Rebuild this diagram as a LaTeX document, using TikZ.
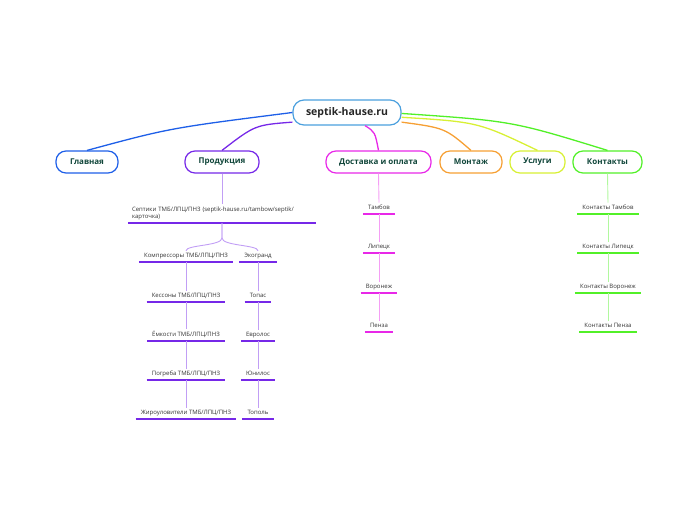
\documentclass[tikz,border=0pt]{standalone}
\usepackage{fontspec}
\setmainfont{Open Sans}
\usepackage{xcolor}

\definecolor{rootblue}{RGB}{75,160,222}
\definecolor{topictext}{RGB}{16,70,58}
\definecolor{cGlav}{RGB}{30,95,232}
\definecolor{cProd}{RGB}{118,40,232}
\definecolor{cDost}{RGB}{232,40,232}
\definecolor{cMont}{RGB}{246,160,52}
\definecolor{cUsl}{RGB}{216,240,52}
\definecolor{cKont}{RGB}{82,240,40}

\begin{document}
\begin{tikzpicture}[x=1pt,y=-1pt,
    root/.style={draw=rootblue, line width=1.2pt, rounded corners=11pt, fill=white,
        minimum width=108pt, minimum height=25pt, font=\fontsize{10.5}{12}\selectfont\bfseries, text=black!85},
    topic/.style={draw=#1, line width=1.2pt, rounded corners=10pt, fill=white,
        minimum height=22pt, inner xsep=3pt, font=\fontsize{8}{10}\selectfont\bfseries, text=topictext},
    branch/.style={draw=#1, line width=1.3pt},
    uline/.style={append after command={(\tikzlastnode.south west) edge[draw=#1, line width=1.8pt] (\tikzlastnode.south east)}},
    leaf/.style={uline=#1, anchor=south, inner xsep=5pt, inner ysep=2.5pt, text depth=1.5pt,
        font=\fontsize{6}{7.5}\selectfont, text=black!80},
    note/.style={uline=#1, anchor=south, inner xsep=4pt, inner ysep=2.5pt, text width=180pt, align=left,
        font=\fontsize{6}{7.5}\selectfont, text=black!80},
    stem/.style={draw=#1!45!white, line width=0.9pt}
]
    \useasboundingbox (0,0) rectangle (697,520);

    % centre and main topics
    \node[root] (root) at (347,112.5) {septik-hause.ru};

    \node[topic=cGlav, minimum width=62pt] (glav) at (87,162) {Главная};
    \node[topic=cProd, minimum width=74pt] (prod) at (222,162) {Продукция};
    \node[topic=cDost, minimum width=105pt] (dost) at (378.5,162) {Доставка и оплата};
    \node[topic=cMont, minimum width=62pt] (mont) at (471,162) {Монтаж};
    \node[topic=cUsl, minimum width=55pt] (usl) at (537.5,162) {Услуги};
    \node[topic=cKont, minimum width=69pt] (kont) at (607.5,162) {Контакты};

    \draw[branch=cGlav] (root.west) .. controls (170,128) .. (glav.north);
    \draw[branch=cProd] (root.190) .. controls (255,125) .. (prod.north);
    \draw[branch=cDost] (root.-36) .. controls (375,132) .. (dost.north);
    \draw[branch=cMont] (root.-10) .. controls (445,128) .. (mont.north);
    \draw[branch=cUsl] (root.-5) .. controls (478,122) .. (usl.north);
    \draw[branch=cKont] (root.-1) .. controls (512,121) .. (kont.north);

    % production
    \node[note=cProd] (sept) at (222,223) {Септики ТМБ/ЛПЦ/ПНЗ (septik-hause.ru/tambow/septik/ карточка)};

    \node[leaf=cProd] (komp) at (186,262) {Компрессоры ТМБ/ЛПЦ/ПНЗ};
    \node[leaf=cProd] (kess) at (186,302) {Кессоны ТМБ/ЛПЦ/ПНЗ};
    \node[leaf=cProd] (emk) at (186,341) {Ёмкости ТМБ/ЛПЦ/ПНЗ};
    \node[leaf=cProd] (pogr) at (186,380) {Погреба ТМБ/ЛПЦ/ПНЗ};
    \node[leaf=cProd] (zhir) at (186,419) {Жироуловители ТМБ/ЛПЦ/ПНЗ};

    \node[leaf=cProd] (eko) at (258,262) {Экогранд};
    \node[leaf=cProd] (topas) at (258,302) {Топас};
    \node[leaf=cProd] (evro) at (258,341) {Евролос};
    \node[leaf=cProd] (yuni) at (258,380) {Юнилос};
    \node[leaf=cProd] (topol) at (258,419) {Тополь};

    \draw[stem=cProd] (prod.south) -- (sept.north);
    \draw[stem=cProd] (sept.south) -- ++(0,15) .. controls +(0,8) and +(0,-6) .. (komp.north);
    \draw[stem=cProd] (sept.south) -- ++(0,15) .. controls +(0,8) and +(0,-6) .. (eko.north);
    \draw[stem=cProd] (komp.south) -- (kess.north);
    \draw[stem=cProd] (kess.south) -- (emk.north);
    \draw[stem=cProd] (emk.south) -- (pogr.north);
    \draw[stem=cProd] (pogr.south) -- (zhir.north);
    \draw[stem=cProd] (eko.south) -- (topas.north);
    \draw[stem=cProd] (topas.south) -- (evro.north);
    \draw[stem=cProd] (evro.south) -- (yuni.north);
    \draw[stem=cProd] (yuni.south) -- (topol.north);

    % delivery
    \node[leaf=cDost] (tamb) at (379,214) {Тамбов};
    \node[leaf=cDost] (lip) at (379,253) {Липецк};
    \node[leaf=cDost] (vor) at (379,293) {Воронеж};
    \node[leaf=cDost] (penz) at (379,332) {Пенза};

    \draw[stem=cDost] (dost.south) -- (tamb.north);
    \draw[stem=cDost] (tamb.south) -- (lip.north);
    \draw[stem=cDost] (lip.south) -- (vor.north);
    \draw[stem=cDost] (vor.south) -- (penz.north);

    % contacts
    \node[leaf=cKont] (ktamb) at (608,214) {Контакты Тамбов};
    \node[leaf=cKont] (klip) at (608,253) {Контакты Липецк};
    \node[leaf=cKont] (kvor) at (608,293) {Контакты Воронеж};
    \node[leaf=cKont] (kpenz) at (608,332) {Контакты Пенза};

    \draw[stem=cKont] (kont.south) -- (ktamb.north);
    \draw[stem=cKont] (ktamb.south) -- (klip.north);
    \draw[stem=cKont] (klip.south) -- (kvor.north);
    \draw[stem=cKont] (kvor.south) -- (kpenz.north);
\end{tikzpicture}
\end{document}
